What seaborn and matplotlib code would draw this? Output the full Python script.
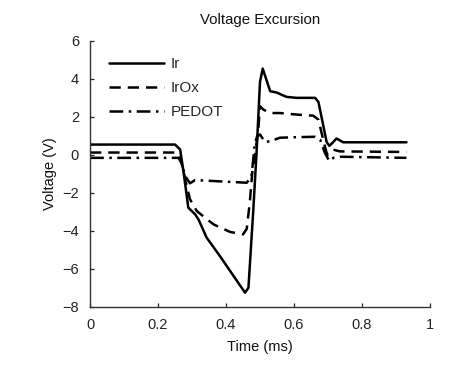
import matplotlib
matplotlib.use("Agg")
import matplotlib.pyplot as plt
import seaborn as sns
import pandas as pd

ir_t = [0.0, 0.25, 0.265, 0.274, 0.282, 0.289, 0.309, 0.319, 0.343, 0.382, 0.456, 0.466, 0.48, 0.49,
        0.5, 0.508, 0.53, 0.549, 0.578, 0.608, 0.662, 0.672, 0.686, 0.696, 0.704, 0.716, 0.725, 0.745, 0.931]
ir_v = [0.54, 0.54, 0.28, -0.77, -1.82, -2.78, -3.13, -3.4, -4.36, -5.33, -7.26, -7.0, -3.0, 0.15,
        3.84, 4.54, 3.35, 3.28, 3.05, 3.0, 3.0, 2.78, 1.56, 0.68, 0.47, 0.68, 0.86, 0.66, 0.66]

irox_t = [0.0, 0.255, 0.265, 0.274, 0.282, 0.294, 0.314, 0.363, 0.412, 0.45, 0.461, 0.47, 0.478, 0.485,
          0.495, 0.5, 0.51, 0.53, 0.559, 0.608, 0.657, 0.672, 0.686, 0.696, 0.7, 0.716, 0.735, 0.931]
irox_v = [0.12, 0.12, -0.17, -0.77, -1.47, -2.34, -2.96, -3.66, -4.06, -4.19, -3.9, -2.5, -0.77, -0.07,
          1.33, 2.56, 2.38, 2.2, 2.2, 2.12, 2.06, 1.85, 0.8, 0.1, 0.01, 0.27, 0.18, 0.15]

pedot_t = [0.0, 0.26, 0.269, 0.28, 0.294, 0.309, 0.363, 0.461, 0.475, 0.485, 0.492, 0.5, 0.515, 0.53,
           0.559, 0.608, 0.662, 0.677, 0.691, 0.704, 0.716, 0.735, 0.931]
pedot_v = [-0.16, -0.16, -0.42, -1.12, -1.5, -1.33, -1.38, -1.47, -1.12, 0.63, 0.98, 1.07, 0.67, 0.72,
           0.9, 0.93, 0.95, 0.8, 0.1, -0.33, -0.16, -0.1, -0.16]

series = ["Ir", "IrOx", "PEDOT"]
x_ticks = [0, 0.2, 0.4, 0.6, 0.8, 1]
x_labels = ["0", "0.2", "0.4", "0.6", "0.8", "1"]
y_ticks = [-8, -6, -4, -2, 0, 2, 4, 6]
y_labels = ["\u22128", "\u22126", "\u22124", "\u22122", "0", "2", "4", "6"]

sns.set_style("white")
plt.rcParams['font.family'] = ['Liberation Sans', 'DejaVu Sans']

fig = plt.figure(figsize=(4.74, 3.75), dpi=100)
ax = fig.add_axes([0.19, 0.182, 0.717, 0.709])

styles = {"Ir": "-", "IrOx": (0, (4.5, 2.8)), "PEDOT": (0, (5.5, 2.2, 1, 2.2))}
data = {"Ir": (ir_t, ir_v), "IrOx": (irox_t, irox_v), "PEDOT": (pedot_t, pedot_v)}
for name in series:
    t, v = data[name]
    df = pd.DataFrame({"t": t, "v": v})
    sns.lineplot(data=df, x="t", y="v", ax=ax, color="black", linewidth=1.8,
                 linestyle=styles[name], label=name, sort=False)

ax.set_xlim(0, 1)
ax.set_ylim(-8, 6)
ax.set_xticks(x_ticks)
ax.set_xticklabels(x_labels)
ax.set_yticks(y_ticks)
ax.set_yticklabels(y_labels)
ax.tick_params(direction="in", length=3, width=0.9, labelsize=10.5, colors="#222222",
               bottom=True, left=True, pad=8)
for s in ["top", "right"]:
    ax.spines[s].set_visible(False)
for s in ["left", "bottom"]:
    ax.spines[s].set_color("#333333")
    ax.spines[s].set_linewidth(1.0)
ax.set_xlabel("Time (ms)", fontsize=10.5, labelpad=6, color="#111111")
ax.set_ylabel("Voltage (V)", fontsize=10.5, labelpad=4, color="#111111")
ax.set_title("Voltage Excursion", fontsize=10.8, pad=12, color="#111111")

leg = ax.legend(loc="upper left", bbox_to_anchor=(0.015, 0.99), frameon=False,
                fontsize=11, handlelength=3.6, handletextpad=0.45, labelspacing=0.65)

fig.savefig("out.png", dpi=100)
